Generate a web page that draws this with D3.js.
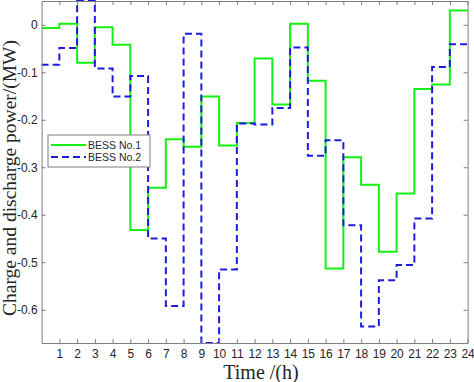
<!DOCTYPE html>
<html>
<head>
<meta charset="utf-8">
<script src="https://cdn.jsdelivr.net/npm/d3@7"></script>
<style>
  body { margin: 0; background: #fff; }
  svg { display: block; }
</style>
</head>
<body>
<div id="chart"></div>
<script>
// Hours (start of each one-hour step)
const hours = d3.range(0, 24);

// Charge / discharge power per hour (MW)
const bess1 = [-0.007, 0.002, -0.080, -0.005, -0.042, -0.432, -0.343, -0.241,
               -0.257, -0.151, -0.254, -0.207, -0.071, -0.168, 0.002, -0.118,
               -0.513, -0.279, -0.337, -0.478, -0.355, -0.135, -0.126, 0.030];
const bess2 = [-0.084, -0.049, 0.050, -0.092, -0.151, -0.108, -0.450, -0.592,
               -0.019, -0.670, -0.515, -0.208, -0.210, -0.175, -0.048, -0.276,
               -0.243, -0.422, -0.635, -0.538, -0.506, -0.408, -0.089, -0.041];

const xTicks = d3.range(1, 25);
const yTicks = [0, -0.1, -0.2, -0.3, -0.4, -0.5, -0.6];
const seriesNames = ["BESS No.1", "BESS No.2"];

const W = 474, H = 382;
const margin = { top: 1, right: 6.4, bottom: 39, left: 41.6 };
const width = W - margin.left - margin.right;
const height = H - margin.top - margin.bottom;
const axisColor = "#7f7f7f";

const svg = d3.select("#chart").append("svg")
    .attr("width", W)
    .attr("height", H);

const g = svg.append("g")
    .attr("transform", `translate(${margin.left},${margin.top})`);

const x = d3.scaleLinear().domain([0, 24]).range([0, width]);
const y = d3.scaleLinear().domain([-0.67, 0.05]).range([height, 0]);

// clip
svg.append("defs").append("clipPath")
    .attr("id", "plot-clip")
    .append("rect")
    .attr("x", -1).attr("y", -1)
    .attr("width", width + 2).attr("height", height + 2);

// Lines (step after, closed at hour 24 with last value)
const toSteps = vals => hours.map((h, i) => ({ h, v: vals[i] }))
    .concat([{ h: 24, v: vals[vals.length - 1] }]);

const line = d3.line()
    .curve(d3.curveStepAfter)
    .x(d => x(d.h))
    .y(d => y(d.v));

const plot = g.append("g").attr("clip-path", "url(#plot-clip)");

plot.append("path")
    .datum(toSteps(bess1))
    .attr("fill", "none")
    .attr("stroke", "#14f014")
    .attr("stroke-width", 2)
    .attr("d", line);

plot.append("path")
    .datum(toSteps(bess2))
    .attr("fill", "none")
    .attr("stroke", "#1c1ce0")
    .attr("stroke-width", 2)
    .attr("stroke-dasharray", "7,4")
    .attr("d", line);

// Axes
const styleAxis = sel => {
    sel.select(".domain").attr("stroke", axisColor);
    sel.selectAll(".tick line").attr("stroke", axisColor);
    sel.selectAll(".tick text")
        .attr("fill", "#262626")
        .style("font-family", "Arial, 'Liberation Sans', sans-serif")
        .style("font-size", "12px");
};

g.append("g")
    .attr("transform", `translate(0,${height})`)
    .call(d3.axisBottom(x).tickValues(xTicks).tickSizeInner(-4).tickSizeOuter(0).tickPadding(6))
    .call(styleAxis);

g.append("g")
    .call(d3.axisTop(x).tickValues(xTicks).tickSizeInner(-4).tickSizeOuter(0).tickFormat(""))
    .call(styleAxis);

g.append("g")
    .call(d3.axisLeft(y).tickValues(yTicks).tickSizeInner(-4).tickSizeOuter(0).tickPadding(4)
        .tickFormat(d => d === 0 ? "0" : d3.format(".1f")(d).replace("−", "-")))
    .call(styleAxis);

g.append("g")
    .attr("transform", `translate(${width},0)`)
    .call(d3.axisRight(y).tickValues(yTicks).tickSizeInner(-4).tickSizeOuter(0).tickFormat(""))
    .call(styleAxis);

// Axis titles
svg.append("text")
    .attr("x", 261)
    .attr("y", 379)
    .attr("text-anchor", "middle")
    .style("font-family", "'Liberation Serif', 'Times New Roman', serif")
    .style("font-size", "20px")
    .attr("fill", "#262626")
    .text("Time /(h)");

svg.append("text")
    .attr("transform", `translate(16,${178}) rotate(-90)`)
    .attr("text-anchor", "middle")
    .style("font-family", "'Liberation Serif', 'Times New Roman', serif")
    .style("font-size", "19.5px")
    .attr("fill", "#262626")
    .text("Charge and discharge power/(MW)");

// Legend
const legend = g.append("g")
    .attr("transform", `translate(${48 - margin.left},${135 - margin.top})`);

legend.append("rect")
    .attr("width", 102)
    .attr("height", 32)
    .attr("fill", "#fff")
    .attr("stroke", axisColor)
    .attr("stroke-width", 1);

const legendStyles = [
    { stroke: "#14f014", dash: null },
    { stroke: "#1c1ce0", dash: "7,4" }
];

seriesNames.forEach((name, i) => {
    const row = legend.append("g")
        .attr("transform", `translate(0,${10 + i * 12})`);
    row.append("line")
        .attr("x1", 3).attr("x2", 38)
        .attr("stroke", legendStyles[i].stroke)
        .attr("stroke-width", 2)
        .attr("stroke-dasharray", legendStyles[i].dash);
    row.append("text")
        .attr("x", 40)
        .attr("dy", "0.35em")
        .style("font-family", "Arial, 'Liberation Sans', sans-serif")
        .style("font-size", "10.5px")
        .attr("fill", "#262626")
        .text(name);
});
</script>
</body>
</html>
